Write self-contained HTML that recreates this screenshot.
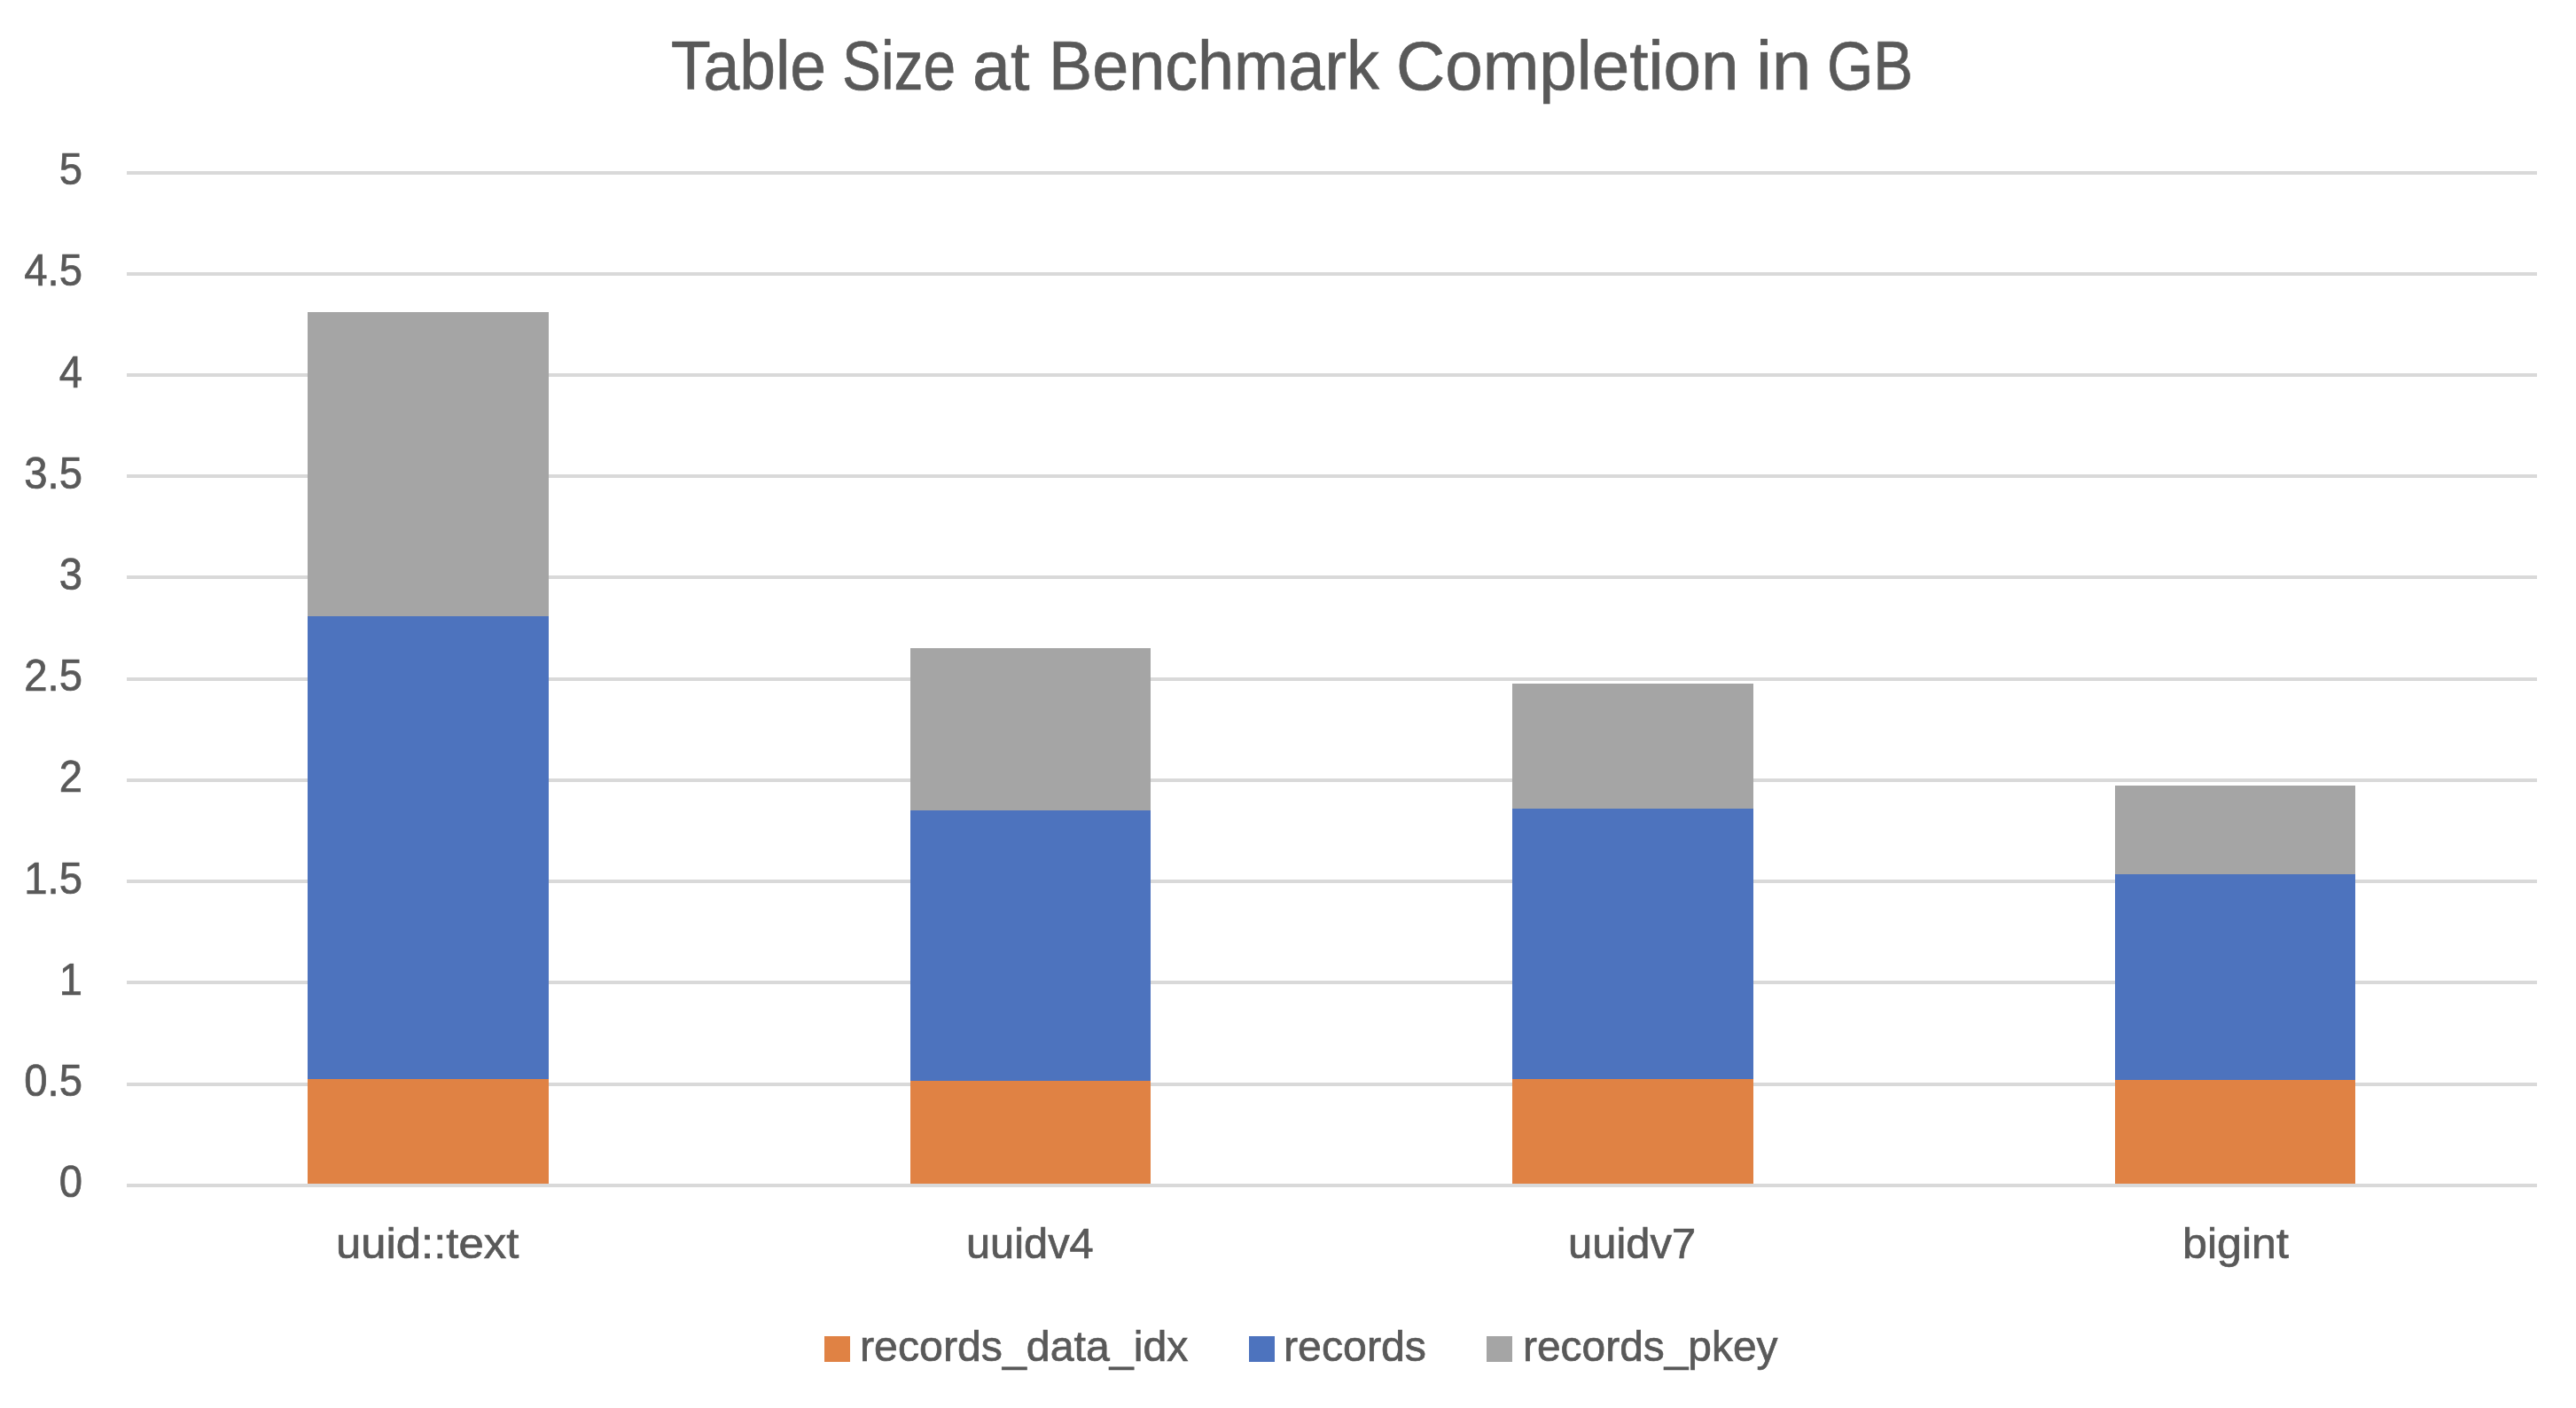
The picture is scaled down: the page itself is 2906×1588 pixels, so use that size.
<!DOCTYPE html>
<html><head><meta charset="utf-8"><title>Table Size at Benchmark Completion in GB</title>
<style>
html,body{margin:0;padding:0;background:#fff;}
body{width:2906px;height:1588px;position:relative;overflow:hidden;font-family:"Liberation Sans",sans-serif;color:#595959;}
.t{position:absolute;white-space:nowrap;line-height:1;-webkit-text-stroke:0.7px #595959;}
.g{position:absolute;left:143px;width:2719px;height:4px;background:#d9d9d9;}
.b{position:absolute;}
.o{background:#e08244;}
.u{background:#4d73be;}
.y{background:#a5a5a5;}
.yl{font-size:49.5px;width:200px;left:-106.8px;text-align:right;transform:scaleX(0.954);transform-origin:right top;}
.tt{top:36.0px;font-size:77px;transform-origin:left top;}
.xl{font-size:48.2px;transform-origin:left top;}
</style></head><body>

<div class="t tt" style="left:756.74px;transform:scaleX(0.9509)">Table</div>
<div class="t tt" style="left:949.91px;transform:scaleX(0.8550)">Size</div>
<div class="t tt" style="left:1096.91px;transform:scaleX(1.0028)">at</div>
<div class="t tt" style="left:1182.60px;transform:scaleX(0.9573)">Benchmark</div>
<div class="t tt" style="left:1575.38px;transform:scaleX(0.9924)">Completion</div>
<div class="t tt" style="left:1980.69px;transform:scaleX(1.0410)">in</div>
<div class="t tt" style="left:2060.64px;transform:scaleX(0.8723)">GB</div>
<div class="g" style="top:193px"></div>
<div class="g" style="top:307px"></div>
<div class="g" style="top:421px"></div>
<div class="g" style="top:535px"></div>
<div class="g" style="top:649px"></div>
<div class="g" style="top:764px"></div>
<div class="g" style="top:878px"></div>
<div class="g" style="top:992px"></div>
<div class="g" style="top:1106px"></div>
<div class="g" style="top:1221px"></div>
<div class="g" style="top:1335px"></div>
<div class="t yl" style="top:166.23px">5</div>
<div class="t yl" style="top:280.43px">4.5</div>
<div class="t yl" style="top:394.63px">4</div>
<div class="t yl" style="top:508.83px">3.5</div>
<div class="t yl" style="top:623.03px">3</div>
<div class="t yl" style="top:737.23px">2.5</div>
<div class="t yl" style="top:851.43px">2</div>
<div class="t yl" style="top:965.63px">1.5</div>
<div class="t yl" style="top:1079.83px">1</div>
<div class="t yl" style="top:1194.03px">0.5</div>
<div class="t yl" style="top:1308.23px">0</div>
<div class="b y" style="left:347px;width:272px;top:352px;height:343px"></div>
<div class="b u" style="left:347px;width:272px;top:695px;height:522px"></div>
<div class="b o" style="left:347px;width:272px;top:1217px;height:118px"></div>
<div class="b y" style="left:1027px;width:271px;top:731px;height:183px"></div>
<div class="b u" style="left:1027px;width:271px;top:914px;height:305px"></div>
<div class="b o" style="left:1027px;width:271px;top:1219px;height:116px"></div>
<div class="b y" style="left:1706px;width:272px;top:771px;height:141px"></div>
<div class="b u" style="left:1706px;width:272px;top:912px;height:305px"></div>
<div class="b o" style="left:1706px;width:272px;top:1217px;height:118px"></div>
<div class="b y" style="left:2386px;width:271px;top:886px;height:100px"></div>
<div class="b u" style="left:2386px;width:271px;top:986px;height:232px"></div>
<div class="b o" style="left:2386px;width:271px;top:1218px;height:117px"></div>
<div class="t xl" style="left:379.15px;top:1378.35px;transform:scaleX(1.055)">uuid::text</div>
<div class="t xl" style="left:1090.3px;top:1378.35px;transform:scaleX(1.012)">uuidv4</div>
<div class="t xl" style="left:1769.3px;top:1378.35px;transform:scaleX(1.015)">uuidv7</div>
<div class="t xl" style="left:2461.6px;top:1378.35px;transform:scaleX(1.041)">bigint</div>
<div class="b o" style="left:930px;top:1507px;width:29px;height:29px"></div>
<div class="b u" style="left:1409px;top:1507px;width:29px;height:29px"></div>
<div class="b y" style="left:1677px;top:1507px;width:29px;height:29px"></div>
<div class="t xl" style="left:970.4px;top:1493.75px;transform:scaleX(1.002)">records_data_idx</div>
<div class="t xl" style="left:1448.4px;top:1493.75px;transform:scaleX(1.002)">records</div>
<div class="t xl" style="left:1717.6px;top:1493.75px;transform:scaleX(0.994)">records_pkey</div>
</body></html>
